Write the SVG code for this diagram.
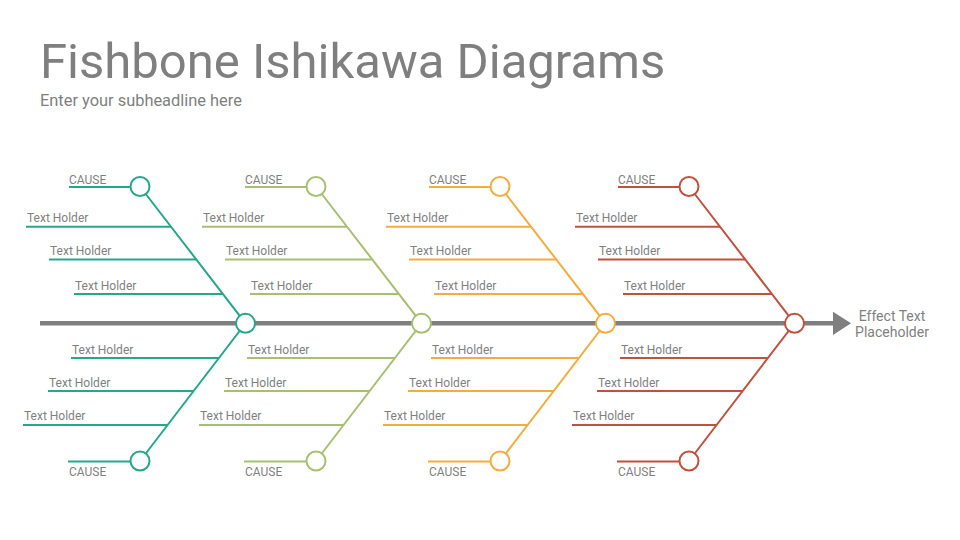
<svg xmlns="http://www.w3.org/2000/svg" width="960" height="540" viewBox="0 0 960 540">
<style>
  text { font-family: Roboto, "Liberation Sans", sans-serif; fill: #7f7f7f; stroke: none; }
  .lbl { font-size: 12px; }
  .bone circle { fill: #ffffff; stroke-width: 2; }
  .teal { stroke: #26a78c; }
  .green { stroke: #a7bf72; }
  .orange { stroke: #f2ad3f; }
  .red { stroke: #c0513f; }
</style>
<defs>
  <g id="bonelines" fill="none" stroke-width="2">
    <line x1="69" y1="187" x2="140" y2="187"/>
    <line x1="26" y1="226.7" x2="171" y2="226.7"/>
    <line x1="49" y1="259.5" x2="196.5" y2="259.5"/>
    <line x1="74" y1="294" x2="223" y2="294"/>
    <line x1="71" y1="358" x2="218.7" y2="358"/>
    <line x1="48" y1="391" x2="193.5" y2="391"/>
    <line x1="23" y1="425" x2="167.5" y2="425"/>
    <line x1="68" y1="461.5" x2="140" y2="461.5"/>
    <polyline points="140,186.5 245.5,323.3 140,461"/>
  </g>
  <g id="bonetext" stroke="none">
    <text class="lbl" x="69" y="184">CAUSE</text>
    <text class="lbl" x="27" y="222">Text Holder</text>
    <text class="lbl" x="50" y="255">Text Holder</text>
    <text class="lbl" x="75" y="289.5">Text Holder</text>
    <text class="lbl" x="72" y="354">Text Holder</text>
    <text class="lbl" x="49" y="387">Text Holder</text>
    <text class="lbl" x="24" y="420">Text Holder</text>
    <text class="lbl" x="69" y="476">CAUSE</text>
  </g>
</defs>

<g id="title">
  <text x="40" y="78" font-size="49">Fishbone Ishikawa Diagrams</text>
  <text x="40" y="106" font-size="16.4">Enter your subheadline here</text>
</g>

<g id="spine">
  <line x1="40" y1="323.3" x2="834" y2="323.3" stroke="#7f7f7f" stroke-width="4.5"/>
  <polygon points="833,311.7 851,323.3 833,335" fill="#7f7f7f"/>
</g>

<g id="cause-1" class="bone teal">
  <use href="#bonelines"/>
  <circle cx="140" cy="186.5" r="9.5"/>
  <circle cx="245.5" cy="323.3" r="9.5"/>
  <circle cx="140" cy="461" r="9.5"/>
  <use href="#bonetext"/>
</g>

<g id="cause-2" class="bone green" transform="translate(176,0)">
  <use href="#bonelines"/>
  <circle cx="140" cy="186.5" r="9.5"/>
  <circle cx="245.5" cy="323.3" r="9.5"/>
  <circle cx="140" cy="461" r="9.5"/>
  <use href="#bonetext"/>
</g>

<g id="cause-3" class="bone orange" transform="translate(360,0)">
  <use href="#bonelines"/>
  <circle cx="140" cy="186.5" r="9.5"/>
  <circle cx="245.5" cy="323.3" r="9.5"/>
  <circle cx="140" cy="461" r="9.5"/>
  <use href="#bonetext"/>
</g>

<g id="cause-4" class="bone red" transform="translate(549,0)">
  <use href="#bonelines"/>
  <circle cx="140" cy="186.5" r="9.5"/>
  <circle cx="245.5" cy="323.3" r="9.5"/>
  <circle cx="140" cy="461" r="9.5"/>
  <use href="#bonetext"/>
</g>

<g id="effect">
  <text x="892" y="320.5" font-size="14" text-anchor="middle">Effect Text</text>
  <text x="892" y="337" font-size="14" text-anchor="middle">Placeholder</text>
</g>
</svg>
